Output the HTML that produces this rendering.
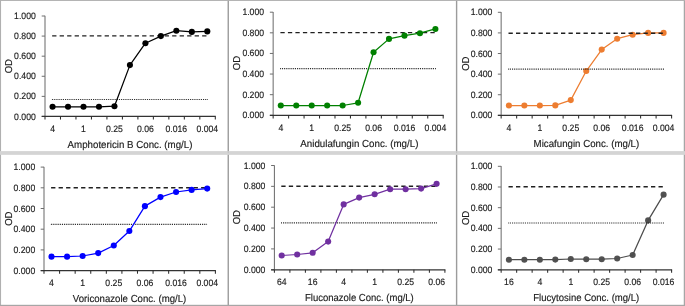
<!DOCTYPE html>
<html lang="en">
<head>
<meta charset="utf-8">
<title>Antifungal OD dose-response curves</title>
<style>
html,body{margin:0;padding:0;background:#fff;}
body{width:685px;height:306px;overflow:hidden;}
svg{display:block;}
text{font-family:"Liberation Sans", sans-serif;text-rendering:geometricPrecision;fill:#1c1c1c;stroke:#1c1c1c;stroke-width:0.16px;}
.tk{font-size:9.3px;}
.ti{font-size:10.1px;}
.od{font-size:10.05px;}
</style>
</head>
<body>
<svg width="685" height="306" viewBox="0 0 685 306">
<rect x="0" y="0" width="685" height="306" fill="#ffffff"/>
<g id="frame">
<rect x="227.55" y="0" width="1.4" height="306" fill="#9c9c9c"/>
<rect x="455.9" y="0" width="1.4" height="306" fill="#9c9c9c"/>
<rect x="0" y="0" width="1.05" height="306" fill="#b0b0b0"/>
<rect x="683.75" y="0" width="1.25" height="306" fill="#a6a6a6"/>
<rect x="0" y="151.1" width="685" height="3.75" fill="#d4d4d4"/>
<rect x="227.7" y="151.1" width="1.1" height="2" fill="#c4c4c4"/>
<rect x="456.05" y="151.1" width="1.1" height="2" fill="#c4c4c4"/>
<rect x="0" y="0" width="685" height="0.95" fill="#b0b0b0"/>
<rect x="0" y="304.8" width="685" height="1.2" fill="#a6a6a6"/>
</g>
<g id="panel1">
<line x1="45" y1="15.8" x2="45" y2="116.45" stroke="#606060" stroke-width="0.95"/>
<line x1="41.7" y1="16" x2="45" y2="16" stroke="#6e6e6e" stroke-width="1"/>
<text class="tk" transform="translate(35.75 19.05) scale(0.93 1)" text-anchor="end">1.000</text>
<line x1="41.7" y1="36.09" x2="45" y2="36.09" stroke="#6e6e6e" stroke-width="1"/>
<text class="tk" transform="translate(35.75 39.14) scale(0.93 1)" text-anchor="end">0.800</text>
<line x1="41.7" y1="56.18" x2="45" y2="56.18" stroke="#6e6e6e" stroke-width="1"/>
<text class="tk" transform="translate(35.75 59.23) scale(0.93 1)" text-anchor="end">0.600</text>
<line x1="41.7" y1="76.27" x2="45" y2="76.27" stroke="#6e6e6e" stroke-width="1"/>
<text class="tk" transform="translate(35.75 79.32) scale(0.93 1)" text-anchor="end">0.400</text>
<line x1="41.7" y1="96.36" x2="45" y2="96.36" stroke="#6e6e6e" stroke-width="1"/>
<text class="tk" transform="translate(35.75 99.41) scale(0.93 1)" text-anchor="end">0.200</text>
<line x1="41.7" y1="116.45" x2="45" y2="116.45" stroke="#6e6e6e" stroke-width="1"/>
<text class="tk" transform="translate(35.75 119.5) scale(0.93 1)" text-anchor="end">0.000</text>
<line x1="41.7" y1="116.45" x2="215.8" y2="116.45" stroke="#333333" stroke-width="1.25"/>
<line x1="45" y1="116.45" x2="45" y2="119.55" stroke="#2c2c2c" stroke-width="1.05"/>
<line x1="60.48" y1="116.45" x2="60.48" y2="119.55" stroke="#2c2c2c" stroke-width="1.05"/>
<line x1="75.96" y1="116.45" x2="75.96" y2="119.55" stroke="#2c2c2c" stroke-width="1.05"/>
<line x1="91.45" y1="116.45" x2="91.45" y2="119.55" stroke="#2c2c2c" stroke-width="1.05"/>
<line x1="106.93" y1="116.45" x2="106.93" y2="119.55" stroke="#2c2c2c" stroke-width="1.05"/>
<line x1="122.41" y1="116.45" x2="122.41" y2="119.55" stroke="#2c2c2c" stroke-width="1.05"/>
<line x1="137.89" y1="116.45" x2="137.89" y2="119.55" stroke="#2c2c2c" stroke-width="1.05"/>
<line x1="153.37" y1="116.45" x2="153.37" y2="119.55" stroke="#2c2c2c" stroke-width="1.05"/>
<line x1="168.85" y1="116.45" x2="168.85" y2="119.55" stroke="#2c2c2c" stroke-width="1.05"/>
<line x1="184.34" y1="116.45" x2="184.34" y2="119.55" stroke="#2c2c2c" stroke-width="1.05"/>
<line x1="199.82" y1="116.45" x2="199.82" y2="119.55" stroke="#2c2c2c" stroke-width="1.05"/>
<line x1="215.3" y1="116.45" x2="215.3" y2="119.55" stroke="#2c2c2c" stroke-width="1.05"/>
<text class="tk" transform="translate(52.55 131.7) scale(0.93 1)" text-anchor="middle">4</text>
<text class="tk" transform="translate(83.5 131.7) scale(0.93 1)" text-anchor="middle">1</text>
<text class="tk" transform="translate(114.45 131.7) scale(0.93 1)" text-anchor="middle">0.25</text>
<text class="tk" transform="translate(145.4 131.7) scale(0.93 1)" text-anchor="middle">0.06</text>
<text class="tk" transform="translate(176.35 131.7) scale(0.93 1)" text-anchor="middle">0.016</text>
<text class="tk" transform="translate(207.3 131.7) scale(0.93 1)" text-anchor="middle">0.004</text>
<text class="ti" x="67.6" y="147.75" textLength="124.8" lengthAdjust="spacingAndGlyphs">Amphotericin B Conc. (mg/L)</text>
<text class="od" transform="translate(12.25 66.2) rotate(-90) scale(0.95 1)" text-anchor="middle">OD</text>
<line x1="52.15" y1="35.9" x2="207.3" y2="35.9" stroke="#202020" stroke-width="1.4" stroke-dasharray="4.3 3.2"/>
<line x1="51.95" y1="99.45" x2="207.7" y2="99.45" stroke="#111111" stroke-width="1.15" stroke-dasharray="0.88 0.985"/>
<circle cx="52.55" cy="106.8" r="3.05" fill="#000000"/>
<circle cx="68.02" cy="106.8" r="3.05" fill="#000000"/>
<circle cx="83.5" cy="106.8" r="3.05" fill="#000000"/>
<circle cx="98.97" cy="106.8" r="3.05" fill="#000000"/>
<circle cx="114.45" cy="106.2" r="3.05" fill="#000000"/>
<circle cx="129.93" cy="65.1" r="3.05" fill="#000000"/>
<circle cx="145.4" cy="43.2" r="3.05" fill="#000000"/>
<circle cx="160.88" cy="36.1" r="3.05" fill="#000000"/>
<circle cx="176.35" cy="30.7" r="3.05" fill="#000000"/>
<circle cx="191.82" cy="31.9" r="3.05" fill="#000000"/>
<circle cx="207.3" cy="31.4" r="3.05" fill="#000000"/>
<polyline points="52.55,106.8 68.02,106.8 83.5,106.8 98.97,106.8 114.45,106.2 129.93,65.1 145.4,43.2 160.88,36.1 176.35,30.7 191.82,31.9 207.3,31.4" fill="none" stroke="#000000" stroke-width="1.25" stroke-linejoin="round"/>
</g>
<g id="panel2">
<line x1="273.15" y1="12" x2="273.15" y2="115.3" stroke="#606060" stroke-width="0.95"/>
<line x1="269.85" y1="12.2" x2="273.15" y2="12.2" stroke="#6e6e6e" stroke-width="1"/>
<text class="tk" transform="translate(264.05 15.25) scale(0.93 1)" text-anchor="end">1.000</text>
<line x1="269.85" y1="32.82" x2="273.15" y2="32.82" stroke="#6e6e6e" stroke-width="1"/>
<text class="tk" transform="translate(264.05 35.87) scale(0.93 1)" text-anchor="end">0.800</text>
<line x1="269.85" y1="53.44" x2="273.15" y2="53.44" stroke="#6e6e6e" stroke-width="1"/>
<text class="tk" transform="translate(264.05 56.49) scale(0.93 1)" text-anchor="end">0.600</text>
<line x1="269.85" y1="74.06" x2="273.15" y2="74.06" stroke="#6e6e6e" stroke-width="1"/>
<text class="tk" transform="translate(264.05 77.11) scale(0.93 1)" text-anchor="end">0.400</text>
<line x1="269.85" y1="94.68" x2="273.15" y2="94.68" stroke="#6e6e6e" stroke-width="1"/>
<text class="tk" transform="translate(264.05 97.73) scale(0.93 1)" text-anchor="end">0.200</text>
<line x1="269.85" y1="115.3" x2="273.15" y2="115.3" stroke="#6e6e6e" stroke-width="1"/>
<text class="tk" transform="translate(264.05 118.35) scale(0.93 1)" text-anchor="end">0.000</text>
<line x1="269.85" y1="115.3" x2="443.7" y2="115.3" stroke="#333333" stroke-width="1.25"/>
<line x1="273.15" y1="115.3" x2="273.15" y2="118.4" stroke="#2c2c2c" stroke-width="1.05"/>
<line x1="288.61" y1="115.3" x2="288.61" y2="118.4" stroke="#2c2c2c" stroke-width="1.05"/>
<line x1="304.07" y1="115.3" x2="304.07" y2="118.4" stroke="#2c2c2c" stroke-width="1.05"/>
<line x1="319.53" y1="115.3" x2="319.53" y2="118.4" stroke="#2c2c2c" stroke-width="1.05"/>
<line x1="334.99" y1="115.3" x2="334.99" y2="118.4" stroke="#2c2c2c" stroke-width="1.05"/>
<line x1="350.45" y1="115.3" x2="350.45" y2="118.4" stroke="#2c2c2c" stroke-width="1.05"/>
<line x1="365.9" y1="115.3" x2="365.9" y2="118.4" stroke="#2c2c2c" stroke-width="1.05"/>
<line x1="381.36" y1="115.3" x2="381.36" y2="118.4" stroke="#2c2c2c" stroke-width="1.05"/>
<line x1="396.82" y1="115.3" x2="396.82" y2="118.4" stroke="#2c2c2c" stroke-width="1.05"/>
<line x1="412.28" y1="115.3" x2="412.28" y2="118.4" stroke="#2c2c2c" stroke-width="1.05"/>
<line x1="427.74" y1="115.3" x2="427.74" y2="118.4" stroke="#2c2c2c" stroke-width="1.05"/>
<line x1="443.2" y1="115.3" x2="443.2" y2="118.4" stroke="#2c2c2c" stroke-width="1.05"/>
<text class="tk" transform="translate(280.8 130.5) scale(0.93 1)" text-anchor="middle">4</text>
<text class="tk" transform="translate(311.72 130.5) scale(0.93 1)" text-anchor="middle">1</text>
<text class="tk" transform="translate(342.64 130.5) scale(0.93 1)" text-anchor="middle">0.25</text>
<text class="tk" transform="translate(373.56 130.5) scale(0.93 1)" text-anchor="middle">0.06</text>
<text class="tk" transform="translate(404.48 130.5) scale(0.93 1)" text-anchor="middle">0.016</text>
<text class="tk" transform="translate(435.4 130.5) scale(0.93 1)" text-anchor="middle">0.004</text>
<text class="ti" x="300.3" y="146.65" textLength="118.1" lengthAdjust="spacingAndGlyphs">Anidulafungin Conc. (mg/L)</text>
<text class="od" transform="translate(240.25 63.1) rotate(-90) scale(0.95 1)" text-anchor="middle">OD</text>
<line x1="280.4" y1="32.6" x2="435.4" y2="32.6" stroke="#202020" stroke-width="1.4" stroke-dasharray="4.3 3.2"/>
<line x1="280.2" y1="68.6" x2="435.8" y2="68.6" stroke="#111111" stroke-width="1.15" stroke-dasharray="0.88 0.985"/>
<circle cx="280.8" cy="105.5" r="3.05" fill="#008000"/>
<circle cx="296.26" cy="105.5" r="3.05" fill="#008000"/>
<circle cx="311.72" cy="105.5" r="3.05" fill="#008000"/>
<circle cx="327.18" cy="105.5" r="3.05" fill="#008000"/>
<circle cx="342.64" cy="105.5" r="3.05" fill="#008000"/>
<circle cx="358.1" cy="102.8" r="3.05" fill="#008000"/>
<circle cx="373.56" cy="52.2" r="3.05" fill="#008000"/>
<circle cx="389.02" cy="38.9" r="3.05" fill="#008000"/>
<circle cx="404.48" cy="35.65" r="3.05" fill="#008000"/>
<circle cx="419.94" cy="33.2" r="3.05" fill="#008000"/>
<circle cx="435.4" cy="28.95" r="3.05" fill="#008000"/>
<polyline points="280.8,105.5 296.26,105.5 311.72,105.5 327.18,105.5 342.64,105.5 358.1,102.8 373.56,52.2 389.02,38.9 404.48,35.65 419.94,33.2 435.4,28.95" fill="none" stroke="#008000" stroke-width="1.25" stroke-linejoin="round"/>
</g>
<g id="panel3">
<line x1="501.15" y1="12.1" x2="501.15" y2="115.35" stroke="#606060" stroke-width="0.95"/>
<line x1="497.85" y1="12.3" x2="501.15" y2="12.3" stroke="#6e6e6e" stroke-width="1"/>
<text class="tk" transform="translate(492.35 15.35) scale(0.93 1)" text-anchor="end">1.000</text>
<line x1="497.85" y1="32.91" x2="501.15" y2="32.91" stroke="#6e6e6e" stroke-width="1"/>
<text class="tk" transform="translate(492.35 35.96) scale(0.93 1)" text-anchor="end">0.800</text>
<line x1="497.85" y1="53.52" x2="501.15" y2="53.52" stroke="#6e6e6e" stroke-width="1"/>
<text class="tk" transform="translate(492.35 56.57) scale(0.93 1)" text-anchor="end">0.600</text>
<line x1="497.85" y1="74.13" x2="501.15" y2="74.13" stroke="#6e6e6e" stroke-width="1"/>
<text class="tk" transform="translate(492.35 77.18) scale(0.93 1)" text-anchor="end">0.400</text>
<line x1="497.85" y1="94.74" x2="501.15" y2="94.74" stroke="#6e6e6e" stroke-width="1"/>
<text class="tk" transform="translate(492.35 97.79) scale(0.93 1)" text-anchor="end">0.200</text>
<line x1="497.85" y1="115.35" x2="501.15" y2="115.35" stroke="#6e6e6e" stroke-width="1"/>
<text class="tk" transform="translate(492.35 118.4) scale(0.93 1)" text-anchor="end">0.000</text>
<line x1="497.85" y1="115.35" x2="672.1" y2="115.35" stroke="#333333" stroke-width="1.25"/>
<line x1="501.15" y1="115.35" x2="501.15" y2="118.45" stroke="#2c2c2c" stroke-width="1.05"/>
<line x1="516.65" y1="115.35" x2="516.65" y2="118.45" stroke="#2c2c2c" stroke-width="1.05"/>
<line x1="532.14" y1="115.35" x2="532.14" y2="118.45" stroke="#2c2c2c" stroke-width="1.05"/>
<line x1="547.64" y1="115.35" x2="547.64" y2="118.45" stroke="#2c2c2c" stroke-width="1.05"/>
<line x1="563.13" y1="115.35" x2="563.13" y2="118.45" stroke="#2c2c2c" stroke-width="1.05"/>
<line x1="578.63" y1="115.35" x2="578.63" y2="118.45" stroke="#2c2c2c" stroke-width="1.05"/>
<line x1="594.12" y1="115.35" x2="594.12" y2="118.45" stroke="#2c2c2c" stroke-width="1.05"/>
<line x1="609.62" y1="115.35" x2="609.62" y2="118.45" stroke="#2c2c2c" stroke-width="1.05"/>
<line x1="625.11" y1="115.35" x2="625.11" y2="118.45" stroke="#2c2c2c" stroke-width="1.05"/>
<line x1="640.61" y1="115.35" x2="640.61" y2="118.45" stroke="#2c2c2c" stroke-width="1.05"/>
<line x1="656.1" y1="115.35" x2="656.1" y2="118.45" stroke="#2c2c2c" stroke-width="1.05"/>
<line x1="671.6" y1="115.35" x2="671.6" y2="118.45" stroke="#2c2c2c" stroke-width="1.05"/>
<text class="tk" transform="translate(508.9 130.5) scale(0.93 1)" text-anchor="middle">4</text>
<text class="tk" transform="translate(539.84 130.5) scale(0.93 1)" text-anchor="middle">1</text>
<text class="tk" transform="translate(570.78 130.5) scale(0.93 1)" text-anchor="middle">0.25</text>
<text class="tk" transform="translate(601.72 130.5) scale(0.93 1)" text-anchor="middle">0.06</text>
<text class="tk" transform="translate(632.66 130.5) scale(0.93 1)" text-anchor="middle">0.016</text>
<text class="tk" transform="translate(663.6 130.5) scale(0.93 1)" text-anchor="middle">0.004</text>
<text class="ti" x="533.6" y="146.65" textLength="105.6" lengthAdjust="spacingAndGlyphs">Micafungin Conc. (mg/L)</text>
<text class="od" transform="translate(468.55 63.7) rotate(-90) scale(0.95 1)" text-anchor="middle">OD</text>
<circle cx="508.9" cy="105.5" r="3.05" fill="#ED7D31"/>
<circle cx="524.37" cy="105.5" r="3.05" fill="#ED7D31"/>
<circle cx="539.84" cy="105.5" r="3.05" fill="#ED7D31"/>
<circle cx="555.31" cy="105.4" r="3.05" fill="#ED7D31"/>
<circle cx="570.78" cy="100.1" r="3.05" fill="#ED7D31"/>
<circle cx="586.25" cy="71.05" r="3.05" fill="#ED7D31"/>
<circle cx="601.72" cy="49.6" r="3.05" fill="#ED7D31"/>
<circle cx="617.19" cy="38.7" r="3.05" fill="#ED7D31"/>
<circle cx="632.66" cy="34.7" r="3.05" fill="#ED7D31"/>
<circle cx="648.13" cy="32.9" r="3.05" fill="#ED7D31"/>
<circle cx="663.6" cy="32.9" r="3.05" fill="#ED7D31"/>
<polyline points="508.9,105.5 524.37,105.5 539.84,105.5 555.31,105.4 570.78,100.1 586.25,71.05 601.72,49.6 617.19,38.7 632.66,34.7 648.13,32.9 663.6,32.9" fill="none" stroke="#ED7D31" stroke-width="1.25" stroke-linejoin="round"/>
<line x1="508.5" y1="33.2" x2="663.6" y2="33.2" stroke="#202020" stroke-width="1.4" stroke-dasharray="4.3 3.2"/>
<line x1="508.3" y1="69.05" x2="664" y2="69.05" stroke="#111111" stroke-width="1.15" stroke-dasharray="0.88 0.985"/>
</g>
<g id="panel4">
<line x1="44" y1="166.9" x2="44" y2="270.6" stroke="#606060" stroke-width="0.95"/>
<line x1="40.7" y1="167.1" x2="44" y2="167.1" stroke="#6e6e6e" stroke-width="1"/>
<text class="tk" transform="translate(35.2 170.15) scale(0.93 1)" text-anchor="end">1.000</text>
<line x1="40.7" y1="187.8" x2="44" y2="187.8" stroke="#6e6e6e" stroke-width="1"/>
<text class="tk" transform="translate(35.2 190.85) scale(0.93 1)" text-anchor="end">0.800</text>
<line x1="40.7" y1="208.5" x2="44" y2="208.5" stroke="#6e6e6e" stroke-width="1"/>
<text class="tk" transform="translate(35.2 211.55) scale(0.93 1)" text-anchor="end">0.600</text>
<line x1="40.7" y1="229.2" x2="44" y2="229.2" stroke="#6e6e6e" stroke-width="1"/>
<text class="tk" transform="translate(35.2 232.25) scale(0.93 1)" text-anchor="end">0.400</text>
<line x1="40.7" y1="249.9" x2="44" y2="249.9" stroke="#6e6e6e" stroke-width="1"/>
<text class="tk" transform="translate(35.2 252.95) scale(0.93 1)" text-anchor="end">0.200</text>
<line x1="40.7" y1="270.6" x2="44" y2="270.6" stroke="#6e6e6e" stroke-width="1"/>
<text class="tk" transform="translate(35.2 273.65) scale(0.93 1)" text-anchor="end">0.000</text>
<line x1="40.7" y1="270.6" x2="215.9" y2="270.6" stroke="#333333" stroke-width="1.25"/>
<line x1="44" y1="270.6" x2="44" y2="273.7" stroke="#2c2c2c" stroke-width="1.05"/>
<line x1="59.58" y1="270.6" x2="59.58" y2="273.7" stroke="#2c2c2c" stroke-width="1.05"/>
<line x1="75.16" y1="270.6" x2="75.16" y2="273.7" stroke="#2c2c2c" stroke-width="1.05"/>
<line x1="90.75" y1="270.6" x2="90.75" y2="273.7" stroke="#2c2c2c" stroke-width="1.05"/>
<line x1="106.33" y1="270.6" x2="106.33" y2="273.7" stroke="#2c2c2c" stroke-width="1.05"/>
<line x1="121.91" y1="270.6" x2="121.91" y2="273.7" stroke="#2c2c2c" stroke-width="1.05"/>
<line x1="137.49" y1="270.6" x2="137.49" y2="273.7" stroke="#2c2c2c" stroke-width="1.05"/>
<line x1="153.07" y1="270.6" x2="153.07" y2="273.7" stroke="#2c2c2c" stroke-width="1.05"/>
<line x1="168.65" y1="270.6" x2="168.65" y2="273.7" stroke="#2c2c2c" stroke-width="1.05"/>
<line x1="184.24" y1="270.6" x2="184.24" y2="273.7" stroke="#2c2c2c" stroke-width="1.05"/>
<line x1="199.82" y1="270.6" x2="199.82" y2="273.7" stroke="#2c2c2c" stroke-width="1.05"/>
<line x1="215.4" y1="270.6" x2="215.4" y2="273.7" stroke="#2c2c2c" stroke-width="1.05"/>
<text class="tk" transform="translate(51.5 286.2) scale(0.93 1)" text-anchor="middle">4</text>
<text class="tk" transform="translate(82.64 286.2) scale(0.93 1)" text-anchor="middle">1</text>
<text class="tk" transform="translate(113.78 286.2) scale(0.93 1)" text-anchor="middle">0.25</text>
<text class="tk" transform="translate(144.92 286.2) scale(0.93 1)" text-anchor="middle">0.06</text>
<text class="tk" transform="translate(176.06 286.2) scale(0.93 1)" text-anchor="middle">0.016</text>
<text class="tk" transform="translate(207.2 286.2) scale(0.93 1)" text-anchor="middle">0.004</text>
<text class="ti" x="72.8" y="301.65" textLength="113.5" lengthAdjust="spacingAndGlyphs">Voriconazole Conc. (mg/L)</text>
<text class="od" transform="translate(12.25 218.7) rotate(-90) scale(0.95 1)" text-anchor="middle">OD</text>
<line x1="51.1" y1="187.8" x2="207.2" y2="187.8" stroke="#202020" stroke-width="1.4" stroke-dasharray="4.3 3.2"/>
<line x1="50.9" y1="224.35" x2="207.6" y2="224.35" stroke="#111111" stroke-width="1.15" stroke-dasharray="0.88 0.985"/>
<circle cx="51.5" cy="256.65" r="3.05" fill="#0000FF"/>
<circle cx="67.07" cy="256.65" r="3.05" fill="#0000FF"/>
<circle cx="82.64" cy="256" r="3.05" fill="#0000FF"/>
<circle cx="98.21" cy="253.1" r="3.05" fill="#0000FF"/>
<circle cx="113.78" cy="245.5" r="3.05" fill="#0000FF"/>
<circle cx="129.35" cy="231.05" r="3.05" fill="#0000FF"/>
<circle cx="144.92" cy="206.15" r="3.05" fill="#0000FF"/>
<circle cx="160.49" cy="197.1" r="3.05" fill="#0000FF"/>
<circle cx="176.06" cy="192" r="3.05" fill="#0000FF"/>
<circle cx="191.63" cy="189.9" r="3.05" fill="#0000FF"/>
<circle cx="207.2" cy="188.6" r="3.05" fill="#0000FF"/>
<polyline points="51.5,256.65 67.07,256.65 82.64,256 98.21,253.1 113.78,245.5 129.35,231.05 144.92,206.15 160.49,197.1 176.06,192 191.63,189.9 207.2,188.6" fill="none" stroke="#0000FF" stroke-width="1.25" stroke-linejoin="round"/>
</g>
<g id="panel5">
<line x1="274.4" y1="165.3" x2="274.4" y2="269.75" stroke="#606060" stroke-width="0.95"/>
<line x1="271.1" y1="165.5" x2="274.4" y2="165.5" stroke="#6e6e6e" stroke-width="1"/>
<text class="tk" transform="translate(265.35 168.55) scale(0.93 1)" text-anchor="end">1.000</text>
<line x1="271.1" y1="186.35" x2="274.4" y2="186.35" stroke="#6e6e6e" stroke-width="1"/>
<text class="tk" transform="translate(265.35 189.4) scale(0.93 1)" text-anchor="end">0.800</text>
<line x1="271.1" y1="207.2" x2="274.4" y2="207.2" stroke="#6e6e6e" stroke-width="1"/>
<text class="tk" transform="translate(265.35 210.25) scale(0.93 1)" text-anchor="end">0.600</text>
<line x1="271.1" y1="228.05" x2="274.4" y2="228.05" stroke="#6e6e6e" stroke-width="1"/>
<text class="tk" transform="translate(265.35 231.1) scale(0.93 1)" text-anchor="end">0.400</text>
<line x1="271.1" y1="248.9" x2="274.4" y2="248.9" stroke="#6e6e6e" stroke-width="1"/>
<text class="tk" transform="translate(265.35 251.95) scale(0.93 1)" text-anchor="end">0.200</text>
<line x1="271.1" y1="269.75" x2="274.4" y2="269.75" stroke="#6e6e6e" stroke-width="1"/>
<text class="tk" transform="translate(265.35 272.8) scale(0.93 1)" text-anchor="end">0.000</text>
<line x1="271.1" y1="269.75" x2="445.4" y2="269.75" stroke="#333333" stroke-width="1.25"/>
<line x1="274.4" y1="269.75" x2="274.4" y2="272.85" stroke="#2c2c2c" stroke-width="1.05"/>
<line x1="289.9" y1="269.75" x2="289.9" y2="272.85" stroke="#2c2c2c" stroke-width="1.05"/>
<line x1="305.4" y1="269.75" x2="305.4" y2="272.85" stroke="#2c2c2c" stroke-width="1.05"/>
<line x1="320.9" y1="269.75" x2="320.9" y2="272.85" stroke="#2c2c2c" stroke-width="1.05"/>
<line x1="336.4" y1="269.75" x2="336.4" y2="272.85" stroke="#2c2c2c" stroke-width="1.05"/>
<line x1="351.9" y1="269.75" x2="351.9" y2="272.85" stroke="#2c2c2c" stroke-width="1.05"/>
<line x1="367.4" y1="269.75" x2="367.4" y2="272.85" stroke="#2c2c2c" stroke-width="1.05"/>
<line x1="382.9" y1="269.75" x2="382.9" y2="272.85" stroke="#2c2c2c" stroke-width="1.05"/>
<line x1="398.4" y1="269.75" x2="398.4" y2="272.85" stroke="#2c2c2c" stroke-width="1.05"/>
<line x1="413.9" y1="269.75" x2="413.9" y2="272.85" stroke="#2c2c2c" stroke-width="1.05"/>
<line x1="429.4" y1="269.75" x2="429.4" y2="272.85" stroke="#2c2c2c" stroke-width="1.05"/>
<line x1="444.9" y1="269.75" x2="444.9" y2="272.85" stroke="#2c2c2c" stroke-width="1.05"/>
<text class="tk" transform="translate(281.7 285.4) scale(0.93 1)" text-anchor="middle">64</text>
<text class="tk" transform="translate(312.68 285.4) scale(0.93 1)" text-anchor="middle">16</text>
<text class="tk" transform="translate(343.66 285.4) scale(0.93 1)" text-anchor="middle">4</text>
<text class="tk" transform="translate(374.64 285.4) scale(0.93 1)" text-anchor="middle">1</text>
<text class="tk" transform="translate(405.62 285.4) scale(0.93 1)" text-anchor="middle">0.25</text>
<text class="tk" transform="translate(436.6 285.4) scale(0.93 1)" text-anchor="middle">0.06</text>
<text class="ti" x="305" y="301.35" textLength="108.8" lengthAdjust="spacingAndGlyphs">Fluconazole Conc. (mg/L)</text>
<text class="od" transform="translate(240.45 217.2) rotate(-90) scale(0.95 1)" text-anchor="middle">OD</text>
<line x1="281.3" y1="186.25" x2="436.6" y2="186.25" stroke="#202020" stroke-width="1.4" stroke-dasharray="4.3 3.2"/>
<line x1="281.1" y1="222.8" x2="437" y2="222.8" stroke="#111111" stroke-width="1.15" stroke-dasharray="0.88 0.985"/>
<circle cx="281.7" cy="255.5" r="3.05" fill="#7030A0"/>
<circle cx="297.19" cy="254.5" r="3.05" fill="#7030A0"/>
<circle cx="312.68" cy="252.8" r="3.05" fill="#7030A0"/>
<circle cx="328.17" cy="241.6" r="3.05" fill="#7030A0"/>
<circle cx="343.66" cy="204.4" r="3.05" fill="#7030A0"/>
<circle cx="359.15" cy="197.6" r="3.05" fill="#7030A0"/>
<circle cx="374.64" cy="194.3" r="3.05" fill="#7030A0"/>
<circle cx="390.13" cy="189.2" r="3.05" fill="#7030A0"/>
<circle cx="405.62" cy="189.2" r="3.05" fill="#7030A0"/>
<circle cx="421.11" cy="188.6" r="3.05" fill="#7030A0"/>
<circle cx="436.6" cy="183.85" r="3.05" fill="#7030A0"/>
<polyline points="281.7,255.5 297.19,254.5 312.68,252.8 328.17,241.6 343.66,204.4 359.15,197.6 374.64,194.3 390.13,189.2 405.62,189.2 421.11,188.6 436.6,183.85" fill="none" stroke="#7030A0" stroke-width="1.25" stroke-linejoin="round"/>
</g>
<g id="panel6">
<line x1="501.15" y1="166.1" x2="501.15" y2="269.75" stroke="#606060" stroke-width="0.95"/>
<line x1="497.85" y1="166.3" x2="501.15" y2="166.3" stroke="#6e6e6e" stroke-width="1"/>
<text class="tk" transform="translate(492.35 169.35) scale(0.93 1)" text-anchor="end">1.000</text>
<line x1="497.85" y1="186.99" x2="501.15" y2="186.99" stroke="#6e6e6e" stroke-width="1"/>
<text class="tk" transform="translate(492.35 190.04) scale(0.93 1)" text-anchor="end">0.800</text>
<line x1="497.85" y1="207.68" x2="501.15" y2="207.68" stroke="#6e6e6e" stroke-width="1"/>
<text class="tk" transform="translate(492.35 210.73) scale(0.93 1)" text-anchor="end">0.600</text>
<line x1="497.85" y1="228.37" x2="501.15" y2="228.37" stroke="#6e6e6e" stroke-width="1"/>
<text class="tk" transform="translate(492.35 231.42) scale(0.93 1)" text-anchor="end">0.400</text>
<line x1="497.85" y1="249.06" x2="501.15" y2="249.06" stroke="#6e6e6e" stroke-width="1"/>
<text class="tk" transform="translate(492.35 252.11) scale(0.93 1)" text-anchor="end">0.200</text>
<line x1="497.85" y1="269.75" x2="501.15" y2="269.75" stroke="#6e6e6e" stroke-width="1"/>
<text class="tk" transform="translate(492.35 272.8) scale(0.93 1)" text-anchor="end">0.000</text>
<line x1="497.85" y1="269.75" x2="672.1" y2="269.75" stroke="#333333" stroke-width="1.25"/>
<line x1="501.15" y1="269.75" x2="501.15" y2="272.85" stroke="#2c2c2c" stroke-width="1.05"/>
<line x1="516.65" y1="269.75" x2="516.65" y2="272.85" stroke="#2c2c2c" stroke-width="1.05"/>
<line x1="532.14" y1="269.75" x2="532.14" y2="272.85" stroke="#2c2c2c" stroke-width="1.05"/>
<line x1="547.64" y1="269.75" x2="547.64" y2="272.85" stroke="#2c2c2c" stroke-width="1.05"/>
<line x1="563.13" y1="269.75" x2="563.13" y2="272.85" stroke="#2c2c2c" stroke-width="1.05"/>
<line x1="578.63" y1="269.75" x2="578.63" y2="272.85" stroke="#2c2c2c" stroke-width="1.05"/>
<line x1="594.12" y1="269.75" x2="594.12" y2="272.85" stroke="#2c2c2c" stroke-width="1.05"/>
<line x1="609.62" y1="269.75" x2="609.62" y2="272.85" stroke="#2c2c2c" stroke-width="1.05"/>
<line x1="625.11" y1="269.75" x2="625.11" y2="272.85" stroke="#2c2c2c" stroke-width="1.05"/>
<line x1="640.61" y1="269.75" x2="640.61" y2="272.85" stroke="#2c2c2c" stroke-width="1.05"/>
<line x1="656.1" y1="269.75" x2="656.1" y2="272.85" stroke="#2c2c2c" stroke-width="1.05"/>
<line x1="671.6" y1="269.75" x2="671.6" y2="272.85" stroke="#2c2c2c" stroke-width="1.05"/>
<text class="tk" transform="translate(508.9 285.4) scale(0.93 1)" text-anchor="middle">16</text>
<text class="tk" transform="translate(539.84 285.4) scale(0.93 1)" text-anchor="middle">4</text>
<text class="tk" transform="translate(570.78 285.4) scale(0.93 1)" text-anchor="middle">1</text>
<text class="tk" transform="translate(601.72 285.4) scale(0.93 1)" text-anchor="middle">0.25</text>
<text class="tk" transform="translate(632.66 285.4) scale(0.93 1)" text-anchor="middle">0.06</text>
<text class="tk" transform="translate(663.6 285.4) scale(0.93 1)" text-anchor="middle">0.016</text>
<text class="ti" x="533.3" y="301.35" textLength="105.9" lengthAdjust="spacingAndGlyphs">Flucytosine Conc. (mg/L)</text>
<text class="od" transform="translate(468.55 217.9) rotate(-90) scale(0.95 1)" text-anchor="middle">OD</text>
<circle cx="508.9" cy="259.7" r="3.05" fill="#525252"/>
<circle cx="524.37" cy="259.7" r="3.05" fill="#525252"/>
<circle cx="539.84" cy="259.7" r="3.05" fill="#525252"/>
<circle cx="555.31" cy="259.6" r="3.05" fill="#525252"/>
<circle cx="570.78" cy="259" r="3.05" fill="#525252"/>
<circle cx="586.25" cy="259.2" r="3.05" fill="#525252"/>
<circle cx="601.72" cy="259.2" r="3.05" fill="#525252"/>
<circle cx="617.19" cy="258.5" r="3.05" fill="#525252"/>
<circle cx="632.66" cy="255" r="3.05" fill="#525252"/>
<circle cx="648.13" cy="220.4" r="3.05" fill="#525252"/>
<circle cx="663.6" cy="194.65" r="3.05" fill="#525252"/>
<polyline points="508.9,259.7 524.37,259.7 539.84,259.7 555.31,259.6 570.78,259 586.25,259.2 601.72,259.2 617.19,258.5 632.66,255 648.13,220.4 663.6,194.65" fill="none" stroke="#4c4c4c" stroke-width="1.25" stroke-linejoin="round"/>
<line x1="508.5" y1="186.8" x2="663.6" y2="186.8" stroke="#202020" stroke-width="1.4" stroke-dasharray="4.3 3.2"/>
<line x1="508.3" y1="222.95" x2="664" y2="222.95" stroke="#111111" stroke-width="1.15" stroke-dasharray="0.88 0.985"/>
</g>
</svg>
</body>
</html>
